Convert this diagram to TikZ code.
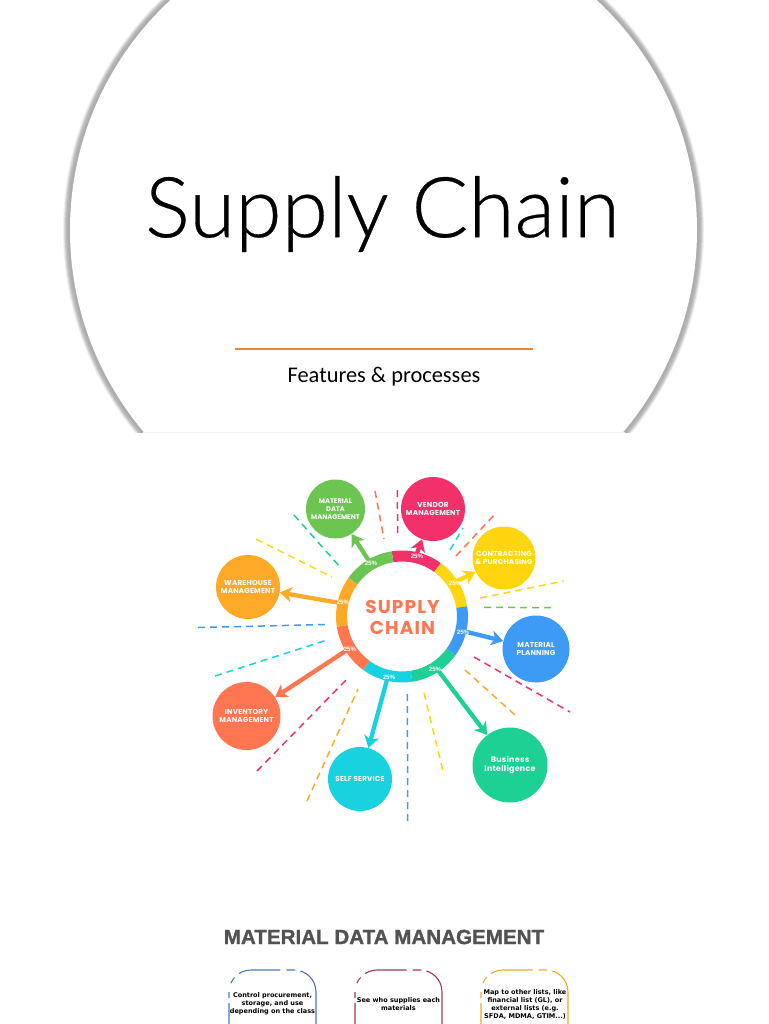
\documentclass[tikz,border=0pt]{standalone}
\usepackage{fontspec}
\setmainfont{Carlito}
\newfontfamily\lite[FakeBold=0.35]{Lato Light}
\newfontfamily\hv{Liberation Sans}
\newfontfamily\pop{Poppins}
\newfontfamily\djv{DejaVu Sans}
\usetikzlibrary{arrows.meta}
\definecolor{cg}{HTML}{6CC551}\definecolor{cp}{HTML}{F2316B}\definecolor{cy}{HTML}{FFD50F}
\definecolor{cb}{HTML}{3E9BF5}\definecolor{ct}{HTML}{1DD094}\definecolor{cc}{HTML}{18D2DF}
\definecolor{cr}{HTML}{FF7650}\definecolor{co}{HTML}{FFA928}
\definecolor{ruleor}{HTML}{F08235}
\definecolor{boxb}{HTML}{4A78B8}\definecolor{boxr}{HTML}{A33A4E}\definecolor{boxo}{HTML}{F0A830}
\tikzset{x=1pt,y=-1pt,
 hub/.style={circle,inner sep=0pt,font=\pop\bfseries\addfontfeature{LetterSpace=3}\fontsize{7.2}{8}\selectfont,text=white,align=center},
 spoke/.style={line width=4.3pt,-{Stealth[length=12pt,width=15pt,inset=3.5pt]}},
 ray/.style={line width=1.5pt,dash pattern=on 7pt off 5pt},
 pct/.style={font=\hv\bfseries\fontsize{6.2}{7}\selectfont,text=white,inner sep=0pt},
 note/.style={font=\djv\bfseries\fontsize{6.5}{8}\selectfont,align=center,inner sep=0pt,text=black},
 dbox/.style={line width=1.1pt,rounded corners=22pt,dash pattern=on 77pt off 5pt on 6pt off 9pt on 7pt off 6pt on 42pt off 6pt on 9pt off 5pt on 200pt}}
\begin{document}
\begin{tikzpicture}
\useasboundingbox (0,0) rectangle (768,1024);
\fill[white] (0,0) rectangle (768,1024);
% slide
\begin{scope}
\clip (0,0) rectangle (768,432);
\foreach \r/\k in {320.5/6,319.5/14,318.5/22,317.5/28,316/32}{
 \fill[black!\k] (383.5,230) circle (\r);}
\fill[white] (383.5,230) circle (313.5);
\end{scope}
\draw[black!6,line width=0.6pt] (143,432.5) -- (625,432.5);
\node[inner sep=0pt,font=\lite\fontsize{84}{90}\selectfont] (title) at (382.5,214) {Supply Chain};
\coordinate (ruleL) at (235,349); \coordinate (ruleR) at (533,349);
\draw[draw=ruleor,line width=1.7pt] (ruleL) -- (ruleR);
\node[inner sep=0pt,font=\fontsize{22.4}{24}\selectfont] (sub) at (384,377) {Features \& processes};
% rays
\draw[ray,cr] (375,491) -- (384,539);
\draw[ray,cp] (397.4,490) -- (397.6,536);
\draw[ray,ct] (294,515) -- (340,567);
\draw[ray,cy] (256,539) -- (332,577);
\draw[ray,cb] (198,627.5) -- (327,624.5);
\draw[ray,cc] (215,676) -- (327,640);
\draw[ray,cp] (257,771) -- (349,677);
\draw[ray,co] (307,801) -- (358,689);
\draw[ray,cb] (407.4,694) -- (407.6,821);
\draw[ray,cy] (424,693) -- (444,775);
\draw[ray,co] (465,670) -- (515,715);
\draw[ray,cp] (474,657) -- (570,712);
\draw[ray,cg] (484,607.4) -- (552,607.6);
\draw[ray,cy] (480,598) -- (564,581);
\draw[ray,cr] (456,556) -- (495,514);
\draw[ray,cc] (450,550) -- (463,528);
% hubs
\node[hub,fill=cg,minimum size=59pt,font=\pop\bfseries\fontsize{6.7}{8}\selectfont] (mdm) at (335.5,509) {MATERIAL\\DATA\\MANAGEMENT};
\node[hub,fill=cp,minimum size=64pt] (vm) at (433,509) {VENDOR\\MANAGEMENT};
\node[hub,fill=cy,minimum size=63pt] (cpu) at (504,558) {CONTRACTING\\\& PURCHASING};
\node[hub,fill=cb,minimum size=67pt] (mp) at (536,649) {MATERIAL\\PLANNING};
\node[hub,fill=ct,minimum size=75pt,font=\pop\bfseries\addfontfeature{LetterSpace=3}\fontsize{8}{9.4}\selectfont] (bi) at (510,765) {Business\\Intelligence};
\node[hub,fill=cc,minimum size=64pt] (ss) at (360,779) {SELF SERVICE};
\node[hub,fill=cr,minimum size=68pt] (inv) at (246.5,716) {INVENTORY\\MANAGEMENT};
\node[hub,fill=co,minimum size=64pt] (wh) at (248,587) {WAREHOUSE\\MANAGEMENT};
% ring
\coordinate (hubc) at (402,616.5);
\foreach \a/\c in {99/cp,54/cy,9/cb,-36/ct,-81/cc,-126/cr,-171/co,-216/cg}{
 \fill[\c] ([shift={(\a:66 and -66)}]hubc) arc[start angle=-\a,delta angle=45,radius=66]
   -- ([shift={(\a-45:55 and -55)}]hubc) arc[start angle=-\a+45,delta angle=-45,radius=55] -- cycle;
}
% spokes
\coordinate (s1) at (369,561); \coordinate (s2) at (416,556); \coordinate (s3) at (453,583);
\coordinate (s4) at (463,631); \coordinate (s5) at (437,669); \coordinate (s6) at (388,676);
\coordinate (s7) at (347,650); \coordinate (s8) at (340,603);
\draw[spoke,cg] (s1) -- (mdm);
\draw[spoke,cp] (s2) -- (vm);
\draw[spoke,cy] (s3) -- (cpu);
\draw[spoke,cb] (s4) -- (mp);
\draw[spoke,ct] (s5) -- (bi);
\draw[spoke,cc] (s6) -- (ss);
\draw[spoke,cr] (s7) -- (inv);
\draw[spoke,co] (s8) -- (wh);
% percentages
\foreach \n/\p in {a/{371,563},b/{417,556},c/{455,583},d/{463,632},e/{435,669},f/{389,677},g/{350,649},h/{343,602}}{
 \node[pct] (p\n) at (\p) {25\%};}
% centre
\node[inner sep=0pt,text=cr,align=center,font=\pop\bfseries\addfontfeature{LetterSpace=6}\fontsize{18.5}{21}\selectfont] (centre) at (402.5,617.5) {SUPPLY\\CHAIN};
% lower slide
\node[inner sep=0pt,text=black!68,font=\hv\bfseries\addfontfeature{FakeBold=1.2}\fontsize{20.6}{22}\selectfont] (mdmt) at (384,937) {MATERIAL DATA MANAGEMENT};
\begin{scope}
\clip (0,900) rectangle (768,1024);
\draw[dbox,draw=boxb] (229,1080) -- (229,970) -- (316,970) -- (316,1080);
\draw[dbox,draw=boxr] (355,1080) -- (355,970) -- (442,970) -- (442,1080);
\draw[dbox,draw=boxo] (481,1080) -- (481,970) -- (568,970) -- (568,1080);
\end{scope}
\node[note] (n1) at (272.5,1004) {Control procurement,\\storage, and use\\depending on the class};
\node[note] (n2) at (398.5,1004.5) {See who supplies each\\materials};
\node[note] (n3) at (525,1004) {Map to other lists, like\\financial list (GL), or\\external lists (e.g.\\SFDA, MDMA, GTIM...)};
\end{tikzpicture}
\end{document}
